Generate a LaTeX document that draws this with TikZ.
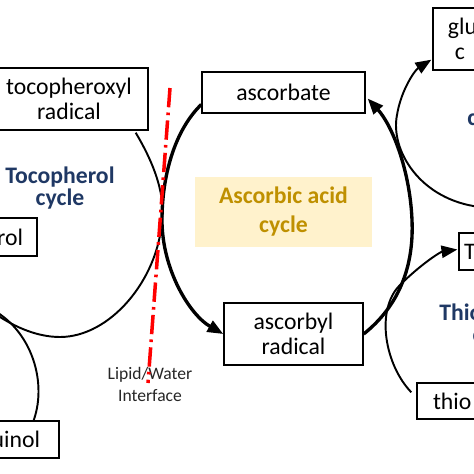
\documentclass[tikz,border=0pt]{standalone}
\usepackage{fontspec}
\setmainfont{Carlito}
\usetikzlibrary{arrows.meta, positioning, calc}
\definecolor{cyclenavy}{HTML}{1F3864}
\definecolor{cyclegold}{HTML}{BF9000}
\definecolor{cyclefill}{HTML}{FFF2CC}
\tikzset{
	box/.style={rectangle, draw, line width=0.8pt, align=center, inner sep=0pt, font=\fontsize{13.5}{14.5}\selectfont},
	cycletext/.style={font=\bfseries\fontsize{13.5}{13}\selectfont, text=cyclenavy, align=center, inner sep=0pt},
	thinline/.style={draw, line width=1.1pt},
	thickline/.style={draw, line width=1.9pt}
}

\begin{document}
\begin{tikzpicture}[
	x=0.02cm, y=-0.02cm,
	>={Triangle[length=9pt, width=7pt]}
	]
	\useasboundingbox (0,0) rectangle (474,474);
	\clip (0,0) rectangle (474,474);
	
	% Ascorbic acid cycle (middle)
	\node[rectangle, fill=cyclefill, minimum width=3.54cm, minimum height=1.4cm, font=\bfseries\fontsize{13.5}{16.5}\selectfont, text=cyclegold, align=center] (ascorbic_label) at (283.5,212) {Ascorbic acid\\cycle};
	\node[box, minimum width=3.26cm, minimum height=0.82cm] (ascorbate) at (283.5,92.5) {ascorbate};
	\node[box, minimum width=2.78cm, minimum height=1.24cm] (ascorbyl_radical) at (293.5,334) {ascorbyl\\radical};
	
	% Tocopherol cycle (left)
	\node[box, minimum width=3.16cm, minimum height=1.24cm] (tocopheroxyl_radical) at (69,99) {tocopheroxyl\\radical};
	\node[box, minimum width=2.94cm, minimum height=0.76cm, text width=2.38cm, inner xsep=0.28cm, align=right] (tocopherol) at (-36.5,237) {rol};
	\node[box, minimum width=3.38cm, minimum height=0.74cm, text width=2.62cm, inner xsep=0.38cm, align=right] (ubiquinol) at (-25.5,439.5) {uinol};
	\node[cycletext] (tocopherol_label) at (60,188) {Tocopherol\\cycle};
	\coordinate (tocopherol_end) at (-10,310);
	\coordinate (ubiquinol_start) at (-15,306);
	
	% Glutathione and thiol cycles (right)
	\node[box, minimum width=1.94cm, minimum height=1.24cm, text width=1.94cm, align=left] (glutathione) at (481.5,39) {\hspace*{8.5pt}glu\\\hspace*{12.5pt}c};
	\node[cycletext, anchor=west] (glutathione_label) at (467,120) {c};
	\coordinate (glutathione_start) at (480,207);
	\node[box, minimum width=1.42cm, minimum height=0.74cm, text width=1.22cm, inner xsep=0.1cm, align=left] (thiyl) at (494.5,251.5) {T};
	\node[box, minimum width=2.26cm, minimum height=0.72cm, text width=1.62cm, inner xsep=0.32cm, align=left] (thiol) at (473.5,401) {thio};
	\node[cycletext, anchor=north west, align=left] (thiol_label) at (439,303) {Thio\\\hspace*{19pt}c};
	
	% tocopherol arcs
	\draw[thinline] ($(tocopheroxyl_radical.south east)+(-13,2)$) .. controls (155,165) and (165,195) .. (162,220)
		.. controls (158,280) and (110,337) .. (60,337) .. controls (35,337) and (10,325) .. (tocopherol_end);
	\draw[thinline] (ubiquinol_start) .. controls (30,325) and (48,380) .. ($(ubiquinol.north east)+(-26,0)$);
	
	% ascorbate <-> ascorbyl radical
	\draw[thickline, ->] ($(ascorbate.west)+(0,12)$) .. controls (175,130) and (162,175) .. (162,220)
		.. controls (162,270) and (190,315) .. (ascorbyl_radical.west);
	\draw[thickline, ->] (ascorbyl_radical.east) .. controls (400,305) and (414,265) .. (412,220)
		.. controls (410,170) and (392,125) .. ($(ascorbate.east)+(2,6)$);
	
	% thiol and glutathione arcs
	\draw[thinline, ->] ($(thiol.north west)+(-5,10)$) .. controls (385,365) and (375,310) .. (400,285)
		.. controls (420,265) and (440,252) .. ($(thiyl.west)+(-1,-2)$);
	\draw[thinline, ->] (glutathione_start) .. controls (420,200) and (390,150) .. (397,115)
		.. controls (401,90) and (415,70) .. ($(glutathione.south west)+(-1,-11)$);
	
	% lipid/water interface
	\node[font=\fontsize{10}{12.5}\selectfont, text=black!85, align=center] (interface_label) at (150,384) {Lipid/Water\\Interface};
	\coordinate (interface_top) at (170,88);
	\coordinate (interface_bottom) at (148,383);
	\draw[red, line width=2pt, dash pattern=on 11pt off 3pt on 1.5pt off 3pt] (interface_top) -- (interface_bottom);
	
\end{tikzpicture}
\end{document}
